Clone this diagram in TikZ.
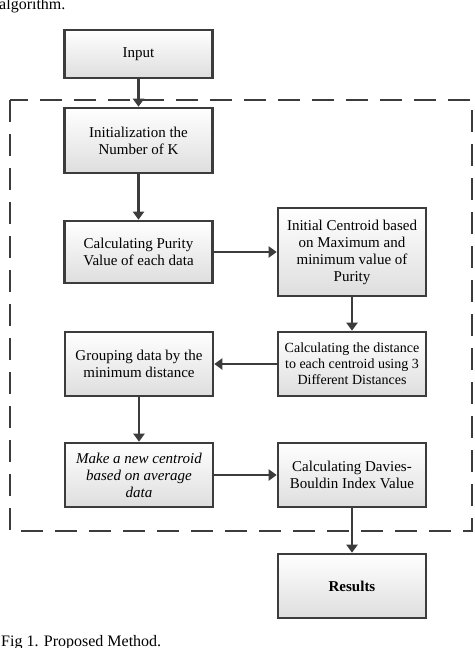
\documentclass[tikz,border=0pt]{standalone}
\usepackage{fontspec}
\setmainfont{Liberation Serif}
\usetikzlibrary{arrows.meta}
\definecolor{edge}{HTML}{3C3C3C}
\tikzset{
  box/.style={draw=edge, line width=2.6pt, rectangle, top color=white, bottom color=black!13,
    minimum width=148pt, align=center, font=\fontsize{15}{17}\selectfont, inner xsep=0pt, inner ysep=1pt},
  flow/.style={draw=edge, line width=2.6pt, -{Triangle[length=8pt,width=11pt]}},
  frame/.style={draw=edge, line width=2.6pt, dash pattern=on 22pt off 12pt}
}
\begin{document}
\begin{tikzpicture}[x=1pt,y=-1pt]
\useasboundingbox (0,0) rectangle (474,648);
\node[anchor=base west, font=\fontsize{16}{18}\selectfont, inner sep=0pt] (top) at (-1,9) {algorithm.};
\node[anchor=base west, font=\fontsize{16}{18}\selectfont, inner sep=0pt] (cap) at (1,646) {Fig 1. Proposed Method.};
\draw[frame] (10,100) rectangle (472,531);
\node[box, minimum height=48pt] (in) at (138.5,54) {Input};
\node[box, minimum height=65pt] (init) at (138.5,140.5) {Initialization the\\Number of K};
\node[box, minimum height=62pt] (pur) at (138.5,252) {Calculating Purity\\Value of each data};
\node[box, minimum height=88pt] (cen) at (352,252) {Initial Centroid based\\on Maximum and\\minimum value of\\Purity};
\node[box, minimum height=64pt, font=\fontsize{14}{16}\selectfont] (dist) at (352,364) {Calculating the distance\\to each centroid using 3\\Different Distances};
\node[box, minimum height=64pt] (grp) at (139,364) {Grouping data by the\\minimum distance};
\node[box, minimum height=64pt, font=\fontsize{15}{17}\selectfont\itshape] (mk) at (139,475) {Make a new centroid\\based on average\\data};
\node[box, minimum height=64pt] (dbi) at (352,475) {Calculating Davies-\\Bouldin Index Value};
\node[box, minimum height=64pt, font=\fontsize{15}{17}\selectfont\bfseries] (res) at (352,586) {Results};
\draw[flow] (in) -- (init);
\draw[flow] (init) -- (pur);
\draw[flow] (pur) -- (cen);
\draw[flow] (cen) -- (dist);
\draw[flow] (dist) -- (grp);
\draw[flow] (grp) -- (mk);
\draw[flow] (mk) -- (dbi);
\draw[flow] (dbi) -- (res);
\end{tikzpicture}
\end{document}
